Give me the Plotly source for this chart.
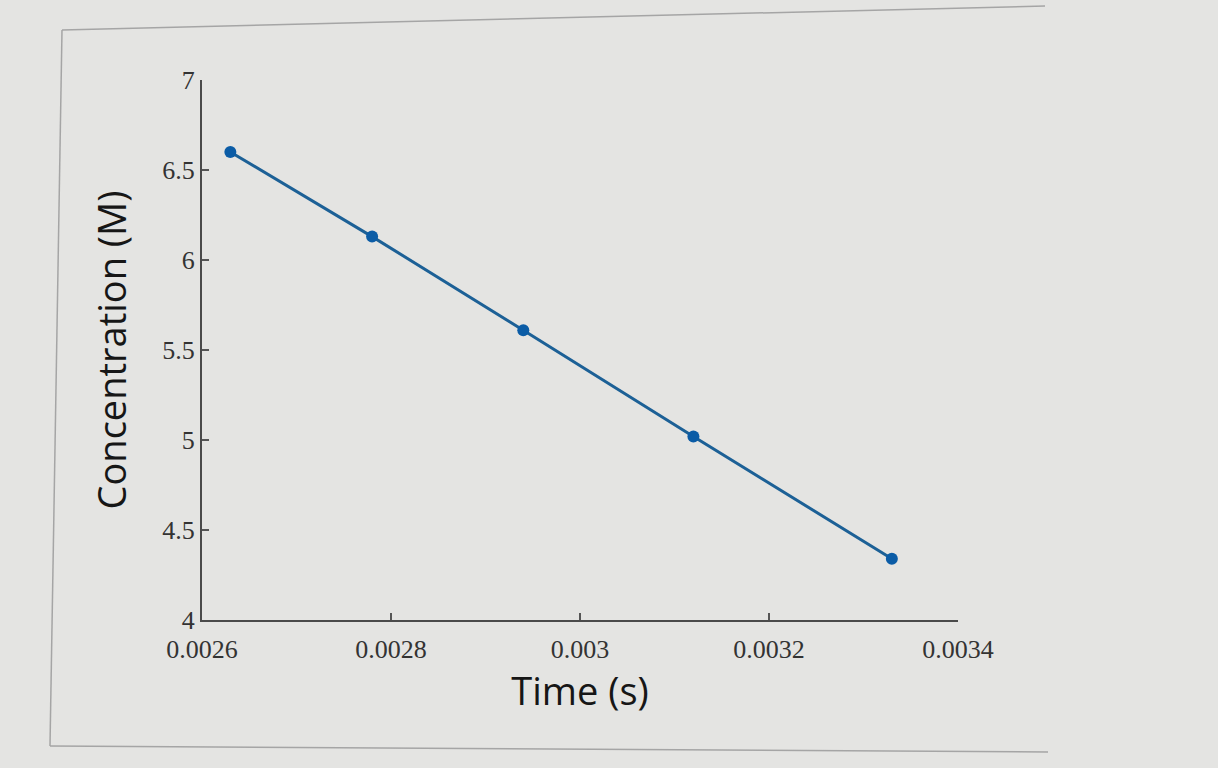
import plotly.graph_objects as go

time_s = [0.00263, 0.00278, 0.00294, 0.00312, 0.00333]
concentration_M = [6.60, 6.13, 5.61, 5.02, 4.34]

x_ticks = [0.0026, 0.0028, 0.003, 0.0032, 0.0034]
x_tick_text = ["0.0026", "0.0028", "0.003", "0.0032", "0.0034"]
y_ticks = [4, 4.5, 5, 5.5, 6, 6.5, 7]
y_tick_text = ["4", "4.5", "5", "5.5", "6", "6.5", "7"]

W, H = 1218, 768
L, R, T, B = 202, 260, 80, 148
pw, ph = W - L - R, H - T - B
BG = "#e4e4e2"

def px(x):
    return (x - L) / pw

def py(y):
    return (H - B - y) / ph

fig = go.Figure()
fig.add_trace(go.Scatter(
    x=time_s, y=concentration_M, mode="lines+markers",
    line=dict(color="#1c6096", width=3),
    marker=dict(color="#0b5ca6", size=12),
    showlegend=False,
))

axis_common = dict(
    showgrid=False, zeroline=False, showline=True, linecolor="#4a4a4a", linewidth=2,
    ticks="inside", ticklen=7, tickwidth=1.5, tickcolor="#555555",
    tickfont=dict(family="Liberation Serif, serif", size=26, color="#333333"),
)

fig.update_xaxes(range=[0.0026, 0.0034], tickvals=x_ticks, ticktext=x_tick_text,
                 ticklabelstandoff=5,
                 title=dict(text="Time (s)", font=dict(family="Open Sans, sans-serif", size=38, color="#161616"), standoff=14),
                 **axis_common)
fig.update_yaxes(range=[4, 7], tickvals=y_ticks, ticktext=y_tick_text,
                 title=dict(text="Concentration (M)", font=dict(family="Open Sans, sans-serif", size=38, color="#161616"), standoff=24),
                 **axis_common)

frame = dict(type="line", xref="paper", yref="paper", line=dict(color="#a5a5a5", width=1.5))
shapes = [
    dict(frame, x0=px(62), y0=py(30), x1=px(1045), y1=py(6)),
    dict(frame, x0=px(62), y0=py(30), x1=px(50), y1=py(746)),
    dict(frame, x0=px(50), y0=py(746), x1=px(1048), y1=py(752)),
]

fig.update_layout(
    width=W, height=H,
    margin=dict(l=L, r=R, t=T, b=B),
    paper_bgcolor=BG, plot_bgcolor=BG,
    shapes=shapes,
)

fig.write_html(
    "out.html",
    config={"displayModeBar": False},
    post_script="document.body.style.margin='0';document.body.style.background='%s';document.body.style.overflow='hidden';" % BG,
)
